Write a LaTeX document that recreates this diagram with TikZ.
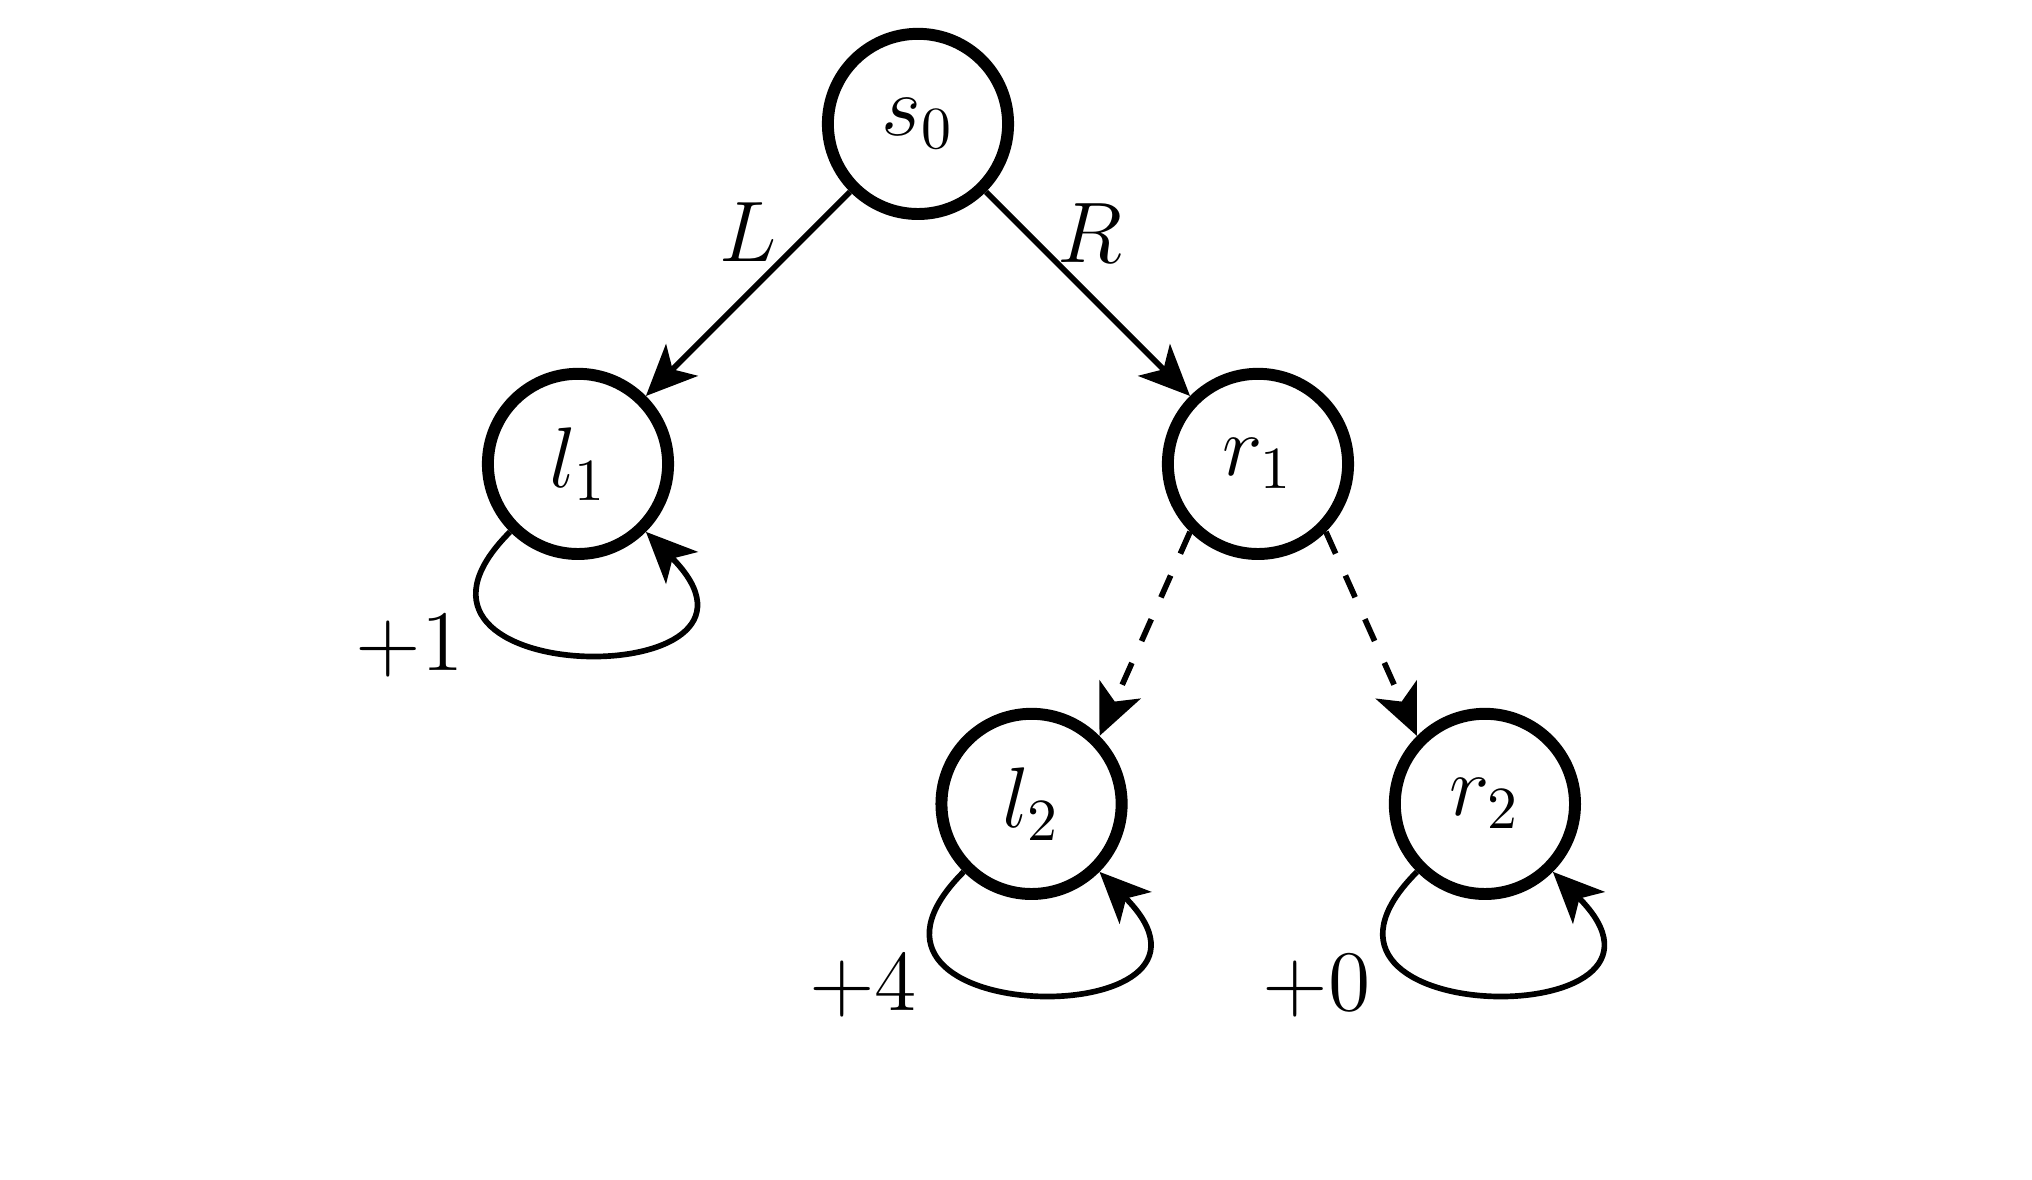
\documentclass[tikz,border=0pt]{standalone}
\usetikzlibrary{arrows.meta,calc}
\begin{document}
\begin{tikzpicture}[
  state/.style={circle, draw, line width=2pt, minimum size=1.06cm, inner sep=0pt, font=\Large},
  lbl/.style={font=\Large, inner sep=0pt},
  arr/.style={line width=0.95pt, -{Stealth[length=8.5pt,width=7.5pt,inset=2.2pt]}},
  dsh/.style={arr, dash pattern=on 4pt off 4pt},
]
\useasboundingbox (0,0) rectangle (11.953,-6.941);
\node[state] (s0) at (5.4,-0.729) {$s_0$};
\node[state] (l1) at (3.4,-2.729) {$l_1$};
\node[state] (r1) at (7.4,-2.729) {$r_1$};
\node[state] (l2) at (6.068,-4.729) {$l_2$};
\node[state] (r2) at (8.735,-4.729) {$r_2$};

\draw[arr] (s0.-135) -- (l1.45);
\draw[arr] (s0.-45) -- (r1.135);
\draw[dsh] (r1.-135) -- (l2.45);
\draw[dsh] (r1.-45) -- (r2.135);

\node[lbl] (L) at (4.4,-1.365) {$L$};
\node[lbl] (R) at (6.41,-1.37) {$R$};

\draw[arr] (l1.-135) .. controls +(-135:1.33) and +(-45:1.36) .. (l1.-45);
\draw[arr] (l2.-135) .. controls +(-135:1.33) and +(-45:1.36) .. (l2.-45);
\draw[arr] (r2.-135) .. controls +(-135:1.33) and +(-45:1.36) .. (r2.-45);

\node[lbl] (p1) at ($(l1)+(-0.99,-1.07)$) {$+1$};
\node[lbl] (p4) at ($(l2)+(-0.99,-1.07)$) {$+4$};
\node[lbl] (p0) at ($(r2)+(-0.99,-1.07)$) {$+0$};
\end{tikzpicture}
\end{document}
